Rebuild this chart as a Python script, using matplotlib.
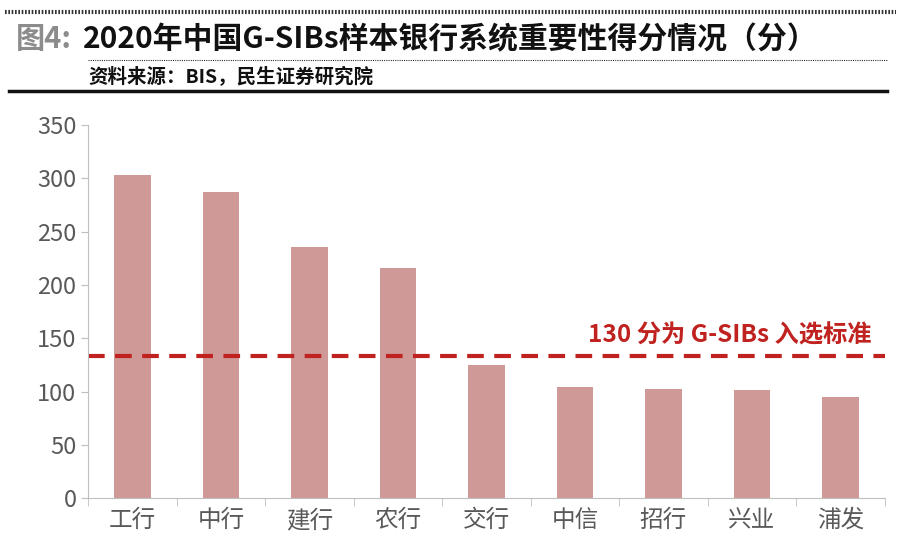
import matplotlib
matplotlib.use('Agg')
import matplotlib.pyplot as plt
from matplotlib.lines import Line2D

plt.rcParams['font.family'] = ['Noto Sans CJK SC', 'DejaVu Sans']

categories = ['工行', '中行', '建行', '农行', '交行', '中信', '招行', '兴业', '浦发']
scores = [303, 287, 235.5, 216, 125, 104, 102, 101, 95]
threshold = 133

fig = plt.figure(figsize=(9, 5.59), dpi=100)
ax = fig.add_axes([0.098, 0.109, 0.885, 0.667])
ax.bar(range(len(categories)), scores, width=0.41, color='#cf9997')
ax.axhline(threshold, color='#c0221f', lw=3, ls=(0, (4, 2.5)))
ax.text(8.35, threshold + 8, '130 分为 G-SIBs 入选标准', color='#c0221f', fontsize=17.5,
        fontweight='bold', ha='right', va='bottom')
ax.set_xlim(-0.5, 8.5)
ax.set_ylim(0, 350)
ax.set_yticks(range(0, 351, 50))
ax.set_xticks(range(len(categories)))
ax.set_xticklabels(categories)
ax.tick_params(axis='both', labelsize=17, colors='#595959', length=5, color='#bfbfbf')
ax.tick_params(axis='x', length=5, pad=8)
ax.set_xticks([i + 0.5 for i in range(-1, 9)], minor=True)
ax.tick_params(axis='x', which='major', length=0)
ax.tick_params(axis='x', which='minor', length=6, color='#bfbfbf')
for s in ['top', 'right']:
    ax.spines[s].set_visible(False)
for s in ['left', 'bottom']:
    ax.spines[s].set_color('#bfbfbf')

fig.add_artist(Line2D([0.005, 0.995], [0.978, 0.978], color='#333', lw=3, ls=(0, (0.4, 0.4))))
fig.text(0.018, 0.93, '图4:', fontsize=21, fontweight='bold', color='#8c8c8c', va='center')
fig.text(0.092, 0.93, '2020年中国G-SIBs样本银行系统重要性得分情况（分）', fontsize=21.5,
         fontweight='bold', color='#111', va='center')
fig.add_artist(Line2D([0.098, 0.985], [0.893, 0.893], color='#333', lw=0.8, ls=(0, (1, 1))))
fig.text(0.098, 0.862, '资料来源：BIS，民生证券研究院', fontsize=14, fontweight='bold', color='#111', va='center')
fig.add_artist(Line2D([0.01, 0.985], [0.837, 0.837], color='#111', lw=2.5))

fig.savefig('out.png', dpi=100)
